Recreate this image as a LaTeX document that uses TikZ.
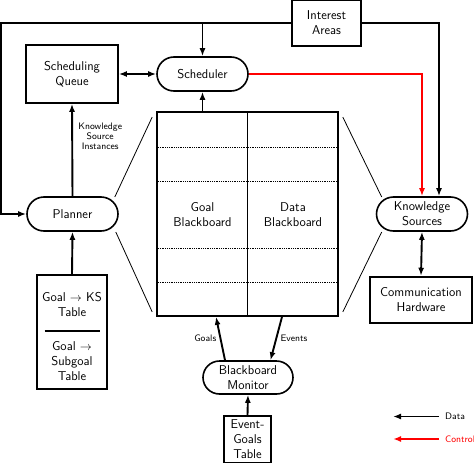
\documentclass[tikz,border=0pt]{standalone}
\usetikzlibrary{arrows.meta,shapes.misc,positioning}

\tikzset{
  box/.style={draw, line width=1.7pt, align=center, inner sep=0pt},
  pill/.style={draw, rounded rectangle, line width=1.6pt, align=center,
               minimum width=91pt, minimum height=34pt, inner sep=0pt},
  flow/.style={line width=1.9pt, -{Latex[length=8pt,width=6pt]}},
  both/.style={line width=1.9pt, {Latex[length=8pt,width=6pt]}-{Latex[length=8pt,width=6pt]}},
  ctrl/.style={flow, draw=red, color=red},
  zoomline/.style={line width=0.8pt},
  note/.style={font=\sffamily\fontsize{9.4}{10}\selectfont, align=center},
}

\begin{document}
\begin{tikzpicture}[x=1pt, y=-1pt, font=\sffamily\fontsize{12.8}{15}\selectfont]
  \useasboundingbox (0,0) rectangle (474,463);

  % boxes and pills
  \node[box, minimum width=69pt, minimum height=46pt] (areas) at (326.5,23) {Interest\\Areas};
  \node[box, minimum width=92pt, minimum height=58pt] (queue) at (72,74) {Scheduling\\Queue};
  \node[pill] (sched) at (202.5,74) {Scheduler};
  \node[pill] (planner) at (72.5,214) {Planner};
  \node[pill] (ks) at (422,214) {Knowledge\\Sources};
  \node[box, line width=2.5pt, minimum width=102pt, minimum height=46pt] (comm) at (421,300) {Communication\\Hardware};
  \node[box, minimum width=181pt, minimum height=204pt] (bb) at (247.5,214) {};
  \node[align=center] (goalbb) at (202.5,215) {Goal\\Blackboard};
  \node[align=center] (databb) at (293,215) {Data\\Blackboard};
  \node[box, minimum width=70pt, minimum height=114pt] (goaltab) at (72,332) {};
  \node[align=center] (kstab) at (72,304.5) {Goal $\rightarrow$ KS\\Table};
  \node[align=center] (subtab) at (72,361) {Goal $\rightarrow$\\Subgoal\\Table};
  \node[pill, minimum width=90pt, minimum height=33pt] (monitor) at (248,377.5) {Blackboard\\Monitor};
  \node[box, minimum width=47pt, minimum height=47pt] (evtab) at (247.5,439.5) {Event-\\Goals\\Table};

  % blackboard rows
  \draw[line width=1.7pt] (bb.north) -- (bb.south);
  \foreach \y in {147,181,248,282}
    \draw[densely dotted, line width=0.8pt] (bb.west |- 0,\y) -- (bb.east |- 0,\y);

  % goal table separator
  \path (goaltab.center) ++(-27.5,-1) coordinate (sepl) ++(55,0) coordinate (sepr);
  \draw[line width=1.3pt] (sepl) -- (sepr);

  % magnification lines
  \draw[zoomline] ([xshift=-4pt,yshift=17pt]planner.east) -- ([xshift=-4pt,yshift=-6pt]bb.north west);
  \draw[zoomline] ([xshift=-3pt,yshift=-18pt]planner.east) -- ([xshift=-4pt,yshift=5pt]bb.south west);
  \draw[zoomline] ([xshift=6pt,yshift=17pt]ks.west) -- ([xshift=4pt,yshift=-6pt]bb.north east);
  \draw[zoomline] ([xshift=6pt,yshift=-18pt]ks.west) -- ([xshift=4pt,yshift=5pt]bb.south east);

  % connectors
  \coordinate (leftcorner) at (1,23);
  \coordinate (rightcorner) at (439,23);
  \draw[flow] (areas.west) -- (leftcorner) |- (planner.west);
  \draw[flow] (areas.east) -- (rightcorner) -- (rightcorner |- ks.north);
  \draw[flow] (sched.north |- areas.west) -- (sched.north);
  \draw[ctrl] (sched.east) -| (ks.north);
  \draw[both] (queue.east) -- (sched.west);
  \draw[flow] (sched.south |- bb.north) -- (sched.south);
  \draw[flow] (planner.north) -- (queue.south)
    node[pos=.65, right, xshift=2pt, note] {Knowledge\\Source\\Instances};
  \draw[flow] (goaltab.north) -- (planner.south);
  \draw[both] (ks.south) -- (comm.north);
  \draw[flow] ([xshift=-23pt]monitor.north) -- ([xshift=-31.5pt]bb.south)
    node[midway, left, note] {Goals};
  \draw[flow] ([xshift=34.5pt]bb.south) -- ([xshift=22.5pt]monitor.north)
    node[midway, right, note] {Events};
  \draw[flow] (evtab.north) -- (monitor.south);

  % legend
  \node[note, anchor=west, inner sep=1pt] (datalab) at (444,416.5) {Data};
  \node[note, anchor=west, inner sep=1pt, text=red] (ctrllab) at (444,439) {Control};
  \draw[flow] ([xshift=-5pt]datalab.west) -- ++(-46,0);
  \draw[ctrl] ([xshift=-5pt]ctrllab.west) -- ++(-46,0);
\end{tikzpicture}
\end{document}
